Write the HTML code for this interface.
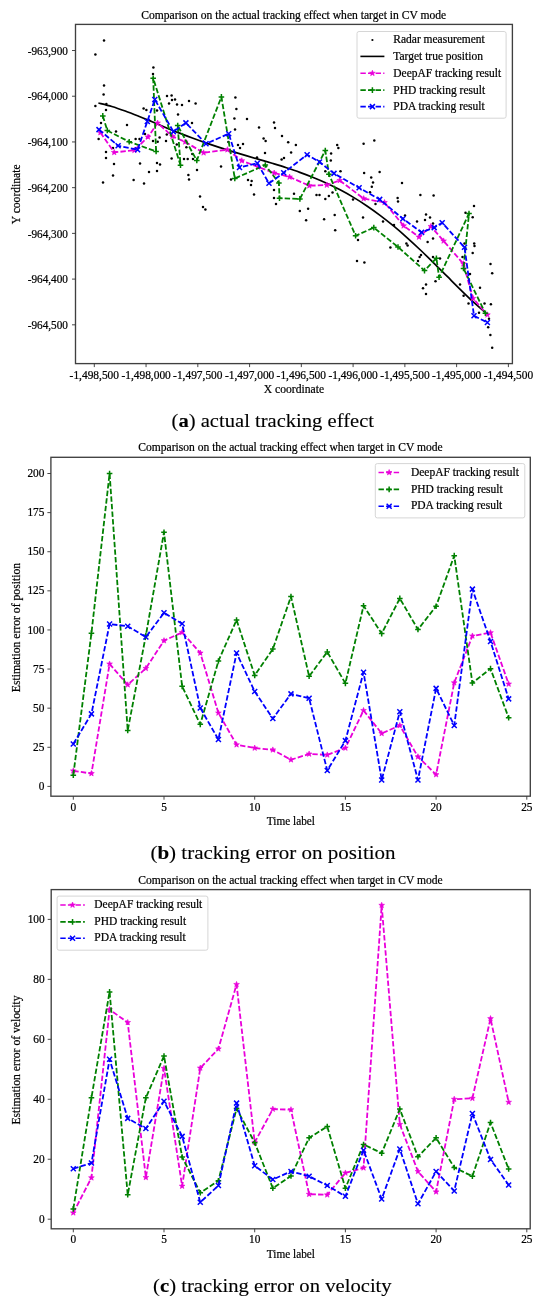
<!DOCTYPE html>
<html><head><meta charset="utf-8"><title>Tracking comparison</title>
<style>html,body{margin:0;padding:0;background:#fff;} svg{display:block;} text{stroke:#000;stroke-width:0.22px;} text.cap{stroke-width:0.1px;}</style>
</head><body>
<svg width="550" height="1302" viewBox="0 0 550 1302">
<rect width="550" height="1302" fill="#fff"/>
<text transform="translate(293.7,19.1) scale(1,1.0)" font-size="12.0" text-anchor="middle" font-family='"Liberation Serif", "Times New Roman", serif' fill="#000" textLength="305" lengthAdjust="spacingAndGlyphs">Comparison on the actual tracking effect when target in CV mode</text>
<circle cx="104.0" cy="40.6" r="1.25" fill="#000"/>
<circle cx="95.4" cy="54.6" r="1.25" fill="#000"/>
<circle cx="153.4" cy="67.6" r="1.25" fill="#000"/>
<circle cx="153.0" cy="74.0" r="1.25" fill="#000"/>
<circle cx="104.0" cy="85.6" r="1.25" fill="#000"/>
<circle cx="103.6" cy="94.6" r="1.25" fill="#000"/>
<circle cx="95.4" cy="106.0" r="1.25" fill="#000"/>
<circle cx="106.4" cy="104.0" r="1.25" fill="#000"/>
<circle cx="106.0" cy="110.0" r="1.25" fill="#000"/>
<circle cx="167.0" cy="96.0" r="1.25" fill="#000"/>
<circle cx="171.6" cy="95.6" r="1.25" fill="#000"/>
<circle cx="172.0" cy="100.0" r="1.25" fill="#000"/>
<circle cx="175.0" cy="99.6" r="1.25" fill="#000"/>
<circle cx="169.0" cy="103.6" r="1.25" fill="#000"/>
<circle cx="177.0" cy="104.6" r="1.25" fill="#000"/>
<circle cx="182.0" cy="105.0" r="1.25" fill="#000"/>
<circle cx="143.6" cy="108.6" r="1.25" fill="#000"/>
<circle cx="146.4" cy="110.0" r="1.25" fill="#000"/>
<circle cx="157.0" cy="110.4" r="1.25" fill="#000"/>
<circle cx="178.0" cy="114.4" r="1.25" fill="#000"/>
<circle cx="101.0" cy="123.0" r="1.25" fill="#000"/>
<circle cx="127.0" cy="125.0" r="1.25" fill="#000"/>
<circle cx="116.0" cy="131.6" r="1.25" fill="#000"/>
<circle cx="98.6" cy="139.0" r="1.25" fill="#000"/>
<circle cx="135.6" cy="139.0" r="1.25" fill="#000"/>
<circle cx="145.0" cy="134.0" r="1.25" fill="#000"/>
<circle cx="153.0" cy="141.0" r="1.25" fill="#000"/>
<circle cx="159.6" cy="137.6" r="1.25" fill="#000"/>
<circle cx="166.0" cy="141.0" r="1.25" fill="#000"/>
<circle cx="106.0" cy="152.0" r="1.25" fill="#000"/>
<circle cx="106.0" cy="158.0" r="1.25" fill="#000"/>
<circle cx="113.0" cy="148.0" r="1.25" fill="#000"/>
<circle cx="114.0" cy="164.0" r="1.25" fill="#000"/>
<circle cx="140.0" cy="163.6" r="1.25" fill="#000"/>
<circle cx="157.0" cy="163.0" r="1.25" fill="#000"/>
<circle cx="160.0" cy="164.4" r="1.25" fill="#000"/>
<circle cx="113.0" cy="175.6" r="1.25" fill="#000"/>
<circle cx="149.0" cy="172.0" r="1.25" fill="#000"/>
<circle cx="157.0" cy="171.0" r="1.25" fill="#000"/>
<circle cx="103.0" cy="182.4" r="1.25" fill="#000"/>
<circle cx="133.6" cy="180.0" r="1.25" fill="#000"/>
<circle cx="144.0" cy="183.6" r="1.25" fill="#000"/>
<circle cx="171.6" cy="158.4" r="1.25" fill="#000"/>
<circle cx="184.0" cy="159.0" r="1.25" fill="#000"/>
<circle cx="187.7" cy="159.0" r="1.25" fill="#000"/>
<circle cx="193.0" cy="159.0" r="1.25" fill="#000"/>
<circle cx="139.5" cy="139.0" r="1.25" fill="#000"/>
<circle cx="157.7" cy="141.8" r="1.25" fill="#000"/>
<circle cx="189.0" cy="101.0" r="1.25" fill="#000"/>
<circle cx="195.6" cy="103.6" r="1.25" fill="#000"/>
<circle cx="235.4" cy="97.6" r="1.25" fill="#000"/>
<circle cx="236.4" cy="109.0" r="1.25" fill="#000"/>
<circle cx="234.4" cy="118.4" r="1.25" fill="#000"/>
<circle cx="247.0" cy="119.0" r="1.25" fill="#000"/>
<circle cx="274.0" cy="122.4" r="1.25" fill="#000"/>
<circle cx="192.0" cy="123.0" r="1.25" fill="#000"/>
<circle cx="259.0" cy="127.6" r="1.25" fill="#000"/>
<circle cx="275.0" cy="128.0" r="1.25" fill="#000"/>
<circle cx="235.0" cy="129.6" r="1.25" fill="#000"/>
<circle cx="282.0" cy="136.0" r="1.25" fill="#000"/>
<circle cx="263.6" cy="138.4" r="1.25" fill="#000"/>
<circle cx="265.6" cy="141.0" r="1.25" fill="#000"/>
<circle cx="228.4" cy="142.0" r="1.25" fill="#000"/>
<circle cx="238.0" cy="145.0" r="1.25" fill="#000"/>
<circle cx="243.0" cy="144.0" r="1.25" fill="#000"/>
<circle cx="240.0" cy="148.0" r="1.25" fill="#000"/>
<circle cx="265.0" cy="153.0" r="1.25" fill="#000"/>
<circle cx="284.0" cy="158.0" r="1.25" fill="#000"/>
<circle cx="257.0" cy="157.6" r="1.25" fill="#000"/>
<circle cx="221.0" cy="166.4" r="1.25" fill="#000"/>
<circle cx="197.0" cy="170.0" r="1.25" fill="#000"/>
<circle cx="188.4" cy="175.0" r="1.25" fill="#000"/>
<circle cx="189.0" cy="179.6" r="1.25" fill="#000"/>
<circle cx="231.0" cy="179.6" r="1.25" fill="#000"/>
<circle cx="248.0" cy="180.0" r="1.25" fill="#000"/>
<circle cx="251.6" cy="181.0" r="1.25" fill="#000"/>
<circle cx="251.0" cy="185.0" r="1.25" fill="#000"/>
<circle cx="274.0" cy="190.0" r="1.25" fill="#000"/>
<circle cx="200.0" cy="196.4" r="1.25" fill="#000"/>
<circle cx="254.0" cy="194.4" r="1.25" fill="#000"/>
<circle cx="274.0" cy="198.0" r="1.25" fill="#000"/>
<circle cx="276.0" cy="204.0" r="1.25" fill="#000"/>
<circle cx="203.0" cy="207.0" r="1.25" fill="#000"/>
<circle cx="205.4" cy="209.4" r="1.25" fill="#000"/>
<circle cx="288.2" cy="142.2" r="1.25" fill="#000"/>
<circle cx="295.9" cy="145.1" r="1.25" fill="#000"/>
<circle cx="337.2" cy="145.1" r="1.25" fill="#000"/>
<circle cx="338.4" cy="148.0" r="1.25" fill="#000"/>
<circle cx="291.1" cy="152.4" r="1.25" fill="#000"/>
<circle cx="331.1" cy="153.4" r="1.25" fill="#000"/>
<circle cx="281.6" cy="159.6" r="1.25" fill="#000"/>
<circle cx="330.8" cy="160.4" r="1.25" fill="#000"/>
<circle cx="325.3" cy="171.3" r="1.25" fill="#000"/>
<circle cx="340.5" cy="171.3" r="1.25" fill="#000"/>
<circle cx="294.0" cy="193.8" r="1.25" fill="#000"/>
<circle cx="316.5" cy="195.0" r="1.25" fill="#000"/>
<circle cx="319.5" cy="195.0" r="1.25" fill="#000"/>
<circle cx="325.3" cy="198.9" r="1.25" fill="#000"/>
<circle cx="328.9" cy="196.0" r="1.25" fill="#000"/>
<circle cx="332.5" cy="192.4" r="1.25" fill="#000"/>
<circle cx="299.8" cy="211.0" r="1.25" fill="#000"/>
<circle cx="308.1" cy="208.7" r="1.25" fill="#000"/>
<circle cx="306.1" cy="220.3" r="1.25" fill="#000"/>
<circle cx="324.1" cy="219.3" r="1.25" fill="#000"/>
<circle cx="334.7" cy="214.9" r="1.25" fill="#000"/>
<circle cx="335.2" cy="230.2" r="1.25" fill="#000"/>
<circle cx="379.6" cy="172.0" r="1.25" fill="#000"/>
<circle cx="402.0" cy="183.0" r="1.25" fill="#000"/>
<circle cx="397.6" cy="198.0" r="1.25" fill="#000"/>
<circle cx="398.0" cy="201.6" r="1.25" fill="#000"/>
<circle cx="420.4" cy="195.0" r="1.25" fill="#000"/>
<circle cx="433.6" cy="195.6" r="1.25" fill="#000"/>
<circle cx="474.0" cy="206.0" r="1.25" fill="#000"/>
<circle cx="373.0" cy="182.4" r="1.25" fill="#000"/>
<circle cx="353.0" cy="199.6" r="1.25" fill="#000"/>
<circle cx="363.0" cy="217.6" r="1.25" fill="#000"/>
<circle cx="383.0" cy="221.6" r="1.25" fill="#000"/>
<circle cx="394.0" cy="225.0" r="1.25" fill="#000"/>
<circle cx="417.0" cy="221.6" r="1.25" fill="#000"/>
<circle cx="426.0" cy="214.4" r="1.25" fill="#000"/>
<circle cx="430.0" cy="217.6" r="1.25" fill="#000"/>
<circle cx="425.0" cy="220.0" r="1.25" fill="#000"/>
<circle cx="433.0" cy="223.6" r="1.25" fill="#000"/>
<circle cx="358.0" cy="240.0" r="1.25" fill="#000"/>
<circle cx="433.0" cy="238.4" r="1.25" fill="#000"/>
<circle cx="427.6" cy="242.0" r="1.25" fill="#000"/>
<circle cx="390.4" cy="247.6" r="1.25" fill="#000"/>
<circle cx="406.4" cy="243.6" r="1.25" fill="#000"/>
<circle cx="407.6" cy="245.6" r="1.25" fill="#000"/>
<circle cx="421.0" cy="255.0" r="1.25" fill="#000"/>
<circle cx="419.6" cy="257.0" r="1.25" fill="#000"/>
<circle cx="433.0" cy="257.0" r="1.25" fill="#000"/>
<circle cx="357.0" cy="261.0" r="1.25" fill="#000"/>
<circle cx="364.4" cy="262.4" r="1.25" fill="#000"/>
<circle cx="418.0" cy="261.0" r="1.25" fill="#000"/>
<circle cx="465.5" cy="212.7" r="1.25" fill="#000"/>
<circle cx="472.7" cy="217.3" r="1.25" fill="#000"/>
<circle cx="474.2" cy="243.6" r="1.25" fill="#000"/>
<circle cx="464.5" cy="243.6" r="1.25" fill="#000"/>
<circle cx="472.7" cy="253.0" r="1.25" fill="#000"/>
<circle cx="490.5" cy="264.0" r="1.25" fill="#000"/>
<circle cx="440.0" cy="258.5" r="1.25" fill="#000"/>
<circle cx="492.2" cy="273.3" r="1.25" fill="#000"/>
<circle cx="470.0" cy="274.0" r="1.25" fill="#000"/>
<circle cx="435.5" cy="281.3" r="1.25" fill="#000"/>
<circle cx="460.0" cy="284.5" r="1.25" fill="#000"/>
<circle cx="426.0" cy="284.5" r="1.25" fill="#000"/>
<circle cx="423.0" cy="288.2" r="1.25" fill="#000"/>
<circle cx="426.0" cy="294.0" r="1.25" fill="#000"/>
<circle cx="480.0" cy="287.8" r="1.25" fill="#000"/>
<circle cx="463.6" cy="295.8" r="1.25" fill="#000"/>
<circle cx="468.5" cy="303.6" r="1.25" fill="#000"/>
<circle cx="484.5" cy="303.6" r="1.25" fill="#000"/>
<circle cx="490.9" cy="304.2" r="1.25" fill="#000"/>
<circle cx="479.0" cy="312.7" r="1.25" fill="#000"/>
<circle cx="488.2" cy="327.3" r="1.25" fill="#000"/>
<circle cx="490.4" cy="335.0" r="1.25" fill="#000"/>
<circle cx="492.2" cy="347.8" r="1.25" fill="#000"/>
<circle cx="364.1" cy="173.0" r="1.25" fill="#000"/>
<circle cx="371.2" cy="177.5" r="1.25" fill="#000"/>
<circle cx="371.8" cy="186.8" r="1.25" fill="#000"/>
<circle cx="370.0" cy="192.3" r="1.25" fill="#000"/>
<circle cx="375.5" cy="204.1" r="1.25" fill="#000"/>
<circle cx="462.5" cy="256.9" r="1.25" fill="#000"/>
<circle cx="489.0" cy="318.8" r="1.25" fill="#000"/>
<circle cx="474.5" cy="246.0" r="1.25" fill="#000"/>
<circle cx="405.0" cy="215.6" r="1.25" fill="#000"/>
<circle cx="363.6" cy="143.7" r="1.25" fill="#000"/>
<circle cx="374.3" cy="140.5" r="1.25" fill="#000"/>
<circle cx="166.8" cy="134.5" r="1.25" fill="#000"/>
<circle cx="176.8" cy="144.5" r="1.25" fill="#000"/>
<circle cx="186.4" cy="147.3" r="1.25" fill="#000"/>
<circle cx="192.3" cy="154.0" r="1.25" fill="#000"/>
<path d="M98.40 103.00 C100.64 103.57 107.35 105.11 111.83 106.44 C116.30 107.78 120.78 109.38 125.26 111.02 C129.73 112.65 134.21 114.46 138.68 116.26 C143.16 118.06 147.63 119.96 152.11 121.81 C156.59 123.67 161.06 125.57 165.54 127.41 C170.01 129.25 174.49 131.09 178.97 132.86 C183.44 134.62 187.92 136.36 192.39 138.03 C196.87 139.70 201.34 141.31 205.82 142.87 C210.30 144.43 214.77 145.92 219.25 147.38 C223.72 148.83 228.20 150.23 232.68 151.60 C237.15 152.98 241.63 154.30 246.10 155.62 C250.58 156.95 255.06 158.24 259.53 159.56 C264.01 160.88 268.48 162.19 272.96 163.55 C277.43 164.92 281.91 166.29 286.39 167.75 C290.86 169.22 295.34 170.71 299.81 172.33 C304.29 173.94 308.77 175.62 313.24 177.44 C317.72 179.25 322.19 181.16 326.67 183.23 C331.14 185.30 335.62 187.48 340.10 189.85 C344.57 192.21 349.05 194.71 353.52 197.39 C358.00 200.08 362.48 202.93 366.95 205.95 C371.43 208.98 375.90 212.18 380.38 215.56 C384.86 218.93 389.33 222.49 393.81 226.20 C398.28 229.91 402.76 233.80 407.23 237.81 C411.71 241.82 416.19 246.00 420.66 250.25 C425.14 254.50 429.61 258.91 434.09 263.32 C438.57 267.73 443.04 272.26 447.52 276.72 C451.99 281.18 456.47 285.71 460.94 290.08 C465.42 294.45 469.90 298.83 474.37 302.92 C478.85 307.02 485.56 312.72 487.80 314.67" fill="none" stroke="#000" stroke-width="1.7"/>
<polyline points="100.40,132.60 114.20,152.40 134.40,150.30 148.00,136.90 157.60,123.00 172.40,136.30 185.20,141.90 203.60,152.80 227.40,149.70 241.80,160.70 258.00,166.90 274.20,173.00 289.60,177.00 309.30,185.70 326.80,185.10 339.70,180.40 363.70,198.60 384.50,202.50 403.60,225.80 419.00,237.00 430.90,226.40 443.60,240.90 463.40,263.80 473.00,298.40 487.40,314.80" fill="none" stroke="#e900da" stroke-width="1.8" stroke-dasharray="5.4 2.2" stroke-linejoin="round"/>
<polygon points="100.40,129.60 101.14,131.58 103.25,131.67 101.60,132.99 102.16,135.03 100.40,133.86 98.64,135.03 99.20,132.99 97.55,131.67 99.66,131.58" fill="#e900da" stroke="#e900da" stroke-width="0.6"/>
<polygon points="114.20,149.40 114.94,151.38 117.05,151.47 115.40,152.79 115.96,154.83 114.20,153.66 112.44,154.83 113.00,152.79 111.35,151.47 113.46,151.38" fill="#e900da" stroke="#e900da" stroke-width="0.6"/>
<polygon points="134.40,147.30 135.14,149.28 137.25,149.37 135.60,150.69 136.16,152.73 134.40,151.56 132.64,152.73 133.20,150.69 131.55,149.37 133.66,149.28" fill="#e900da" stroke="#e900da" stroke-width="0.6"/>
<polygon points="148.00,133.90 148.74,135.88 150.85,135.97 149.20,137.29 149.76,139.33 148.00,138.16 146.24,139.33 146.80,137.29 145.15,135.97 147.26,135.88" fill="#e900da" stroke="#e900da" stroke-width="0.6"/>
<polygon points="157.60,120.00 158.34,121.98 160.45,122.07 158.80,123.39 159.36,125.43 157.60,124.26 155.84,125.43 156.40,123.39 154.75,122.07 156.86,121.98" fill="#e900da" stroke="#e900da" stroke-width="0.6"/>
<polygon points="172.40,133.30 173.14,135.28 175.25,135.37 173.60,136.69 174.16,138.73 172.40,137.56 170.64,138.73 171.20,136.69 169.55,135.37 171.66,135.28" fill="#e900da" stroke="#e900da" stroke-width="0.6"/>
<polygon points="185.20,138.90 185.94,140.88 188.05,140.97 186.40,142.29 186.96,144.33 185.20,143.16 183.44,144.33 184.00,142.29 182.35,140.97 184.46,140.88" fill="#e900da" stroke="#e900da" stroke-width="0.6"/>
<polygon points="203.60,149.80 204.34,151.78 206.45,151.87 204.80,153.19 205.36,155.23 203.60,154.06 201.84,155.23 202.40,153.19 200.75,151.87 202.86,151.78" fill="#e900da" stroke="#e900da" stroke-width="0.6"/>
<polygon points="227.40,146.70 228.14,148.68 230.25,148.77 228.60,150.09 229.16,152.13 227.40,150.96 225.64,152.13 226.20,150.09 224.55,148.77 226.66,148.68" fill="#e900da" stroke="#e900da" stroke-width="0.6"/>
<polygon points="241.80,157.70 242.54,159.68 244.65,159.77 243.00,161.09 243.56,163.13 241.80,161.96 240.04,163.13 240.60,161.09 238.95,159.77 241.06,159.68" fill="#e900da" stroke="#e900da" stroke-width="0.6"/>
<polygon points="258.00,163.90 258.74,165.88 260.85,165.97 259.20,167.29 259.76,169.33 258.00,168.16 256.24,169.33 256.80,167.29 255.15,165.97 257.26,165.88" fill="#e900da" stroke="#e900da" stroke-width="0.6"/>
<polygon points="274.20,170.00 274.94,171.98 277.05,172.07 275.40,173.39 275.96,175.43 274.20,174.26 272.44,175.43 273.00,173.39 271.35,172.07 273.46,171.98" fill="#e900da" stroke="#e900da" stroke-width="0.6"/>
<polygon points="289.60,174.00 290.34,175.98 292.45,176.07 290.80,177.39 291.36,179.43 289.60,178.26 287.84,179.43 288.40,177.39 286.75,176.07 288.86,175.98" fill="#e900da" stroke="#e900da" stroke-width="0.6"/>
<polygon points="309.30,182.70 310.04,184.68 312.15,184.77 310.50,186.09 311.06,188.13 309.30,186.96 307.54,188.13 308.10,186.09 306.45,184.77 308.56,184.68" fill="#e900da" stroke="#e900da" stroke-width="0.6"/>
<polygon points="326.80,182.10 327.54,184.08 329.65,184.17 328.00,185.49 328.56,187.53 326.80,186.36 325.04,187.53 325.60,185.49 323.95,184.17 326.06,184.08" fill="#e900da" stroke="#e900da" stroke-width="0.6"/>
<polygon points="339.70,177.40 340.44,179.38 342.55,179.47 340.90,180.79 341.46,182.83 339.70,181.66 337.94,182.83 338.50,180.79 336.85,179.47 338.96,179.38" fill="#e900da" stroke="#e900da" stroke-width="0.6"/>
<polygon points="363.70,195.60 364.44,197.58 366.55,197.67 364.90,198.99 365.46,201.03 363.70,199.86 361.94,201.03 362.50,198.99 360.85,197.67 362.96,197.58" fill="#e900da" stroke="#e900da" stroke-width="0.6"/>
<polygon points="384.50,199.50 385.24,201.48 387.35,201.57 385.70,202.89 386.26,204.93 384.50,203.76 382.74,204.93 383.30,202.89 381.65,201.57 383.76,201.48" fill="#e900da" stroke="#e900da" stroke-width="0.6"/>
<polygon points="403.60,222.80 404.34,224.78 406.45,224.87 404.80,226.19 405.36,228.23 403.60,227.06 401.84,228.23 402.40,226.19 400.75,224.87 402.86,224.78" fill="#e900da" stroke="#e900da" stroke-width="0.6"/>
<polygon points="419.00,234.00 419.74,235.98 421.85,236.07 420.20,237.39 420.76,239.43 419.00,238.26 417.24,239.43 417.80,237.39 416.15,236.07 418.26,235.98" fill="#e900da" stroke="#e900da" stroke-width="0.6"/>
<polygon points="430.90,223.40 431.64,225.38 433.75,225.47 432.10,226.79 432.66,228.83 430.90,227.66 429.14,228.83 429.70,226.79 428.05,225.47 430.16,225.38" fill="#e900da" stroke="#e900da" stroke-width="0.6"/>
<polygon points="443.60,237.90 444.34,239.88 446.45,239.97 444.80,241.29 445.36,243.33 443.60,242.16 441.84,243.33 442.40,241.29 440.75,239.97 442.86,239.88" fill="#e900da" stroke="#e900da" stroke-width="0.6"/>
<polygon points="463.40,260.80 464.14,262.78 466.25,262.87 464.60,264.19 465.16,266.23 463.40,265.06 461.64,266.23 462.20,264.19 460.55,262.87 462.66,262.78" fill="#e900da" stroke="#e900da" stroke-width="0.6"/>
<polygon points="473.00,295.40 473.74,297.38 475.85,297.47 474.20,298.79 474.76,300.83 473.00,299.66 471.24,300.83 471.80,298.79 470.15,297.47 472.26,297.38" fill="#e900da" stroke="#e900da" stroke-width="0.6"/>
<polygon points="487.40,311.80 488.14,313.78 490.25,313.87 488.60,315.19 489.16,317.23 487.40,316.06 485.64,317.23 486.20,315.19 484.55,313.87 486.66,313.78" fill="#e900da" stroke="#e900da" stroke-width="0.6"/>
<polyline points="102.80,115.90 107.30,130.50 129.20,141.80 156.10,151.40 153.20,78.20 180.50,165.20 177.70,125.60 196.80,160.50 221.40,96.90 234.80,178.50 265.30,165.00 278.90,183.00 279.50,198.20 299.90,198.90 325.30,150.60 328.90,174.20 355.60,235.80 373.80,227.60 398.00,247.00 424.50,270.60 436.40,258.20 439.10,277.30 469.00,213.50 463.50,268.40 485.40,313.30" fill="none" stroke="#008000" stroke-width="1.8" stroke-dasharray="5.4 2.2" stroke-linejoin="round"/>
<path d="M100.00 115.90H105.60M102.80 113.10V118.70" stroke="#008000" stroke-width="1.5" fill="none"/>
<path d="M104.50 130.50H110.10M107.30 127.70V133.30" stroke="#008000" stroke-width="1.5" fill="none"/>
<path d="M126.40 141.80H132.00M129.20 139.00V144.60" stroke="#008000" stroke-width="1.5" fill="none"/>
<path d="M153.30 151.40H158.90M156.10 148.60V154.20" stroke="#008000" stroke-width="1.5" fill="none"/>
<path d="M150.40 78.20H156.00M153.20 75.40V81.00" stroke="#008000" stroke-width="1.5" fill="none"/>
<path d="M177.70 165.20H183.30M180.50 162.40V168.00" stroke="#008000" stroke-width="1.5" fill="none"/>
<path d="M174.90 125.60H180.50M177.70 122.80V128.40" stroke="#008000" stroke-width="1.5" fill="none"/>
<path d="M194.00 160.50H199.60M196.80 157.70V163.30" stroke="#008000" stroke-width="1.5" fill="none"/>
<path d="M218.60 96.90H224.20M221.40 94.10V99.70" stroke="#008000" stroke-width="1.5" fill="none"/>
<path d="M232.00 178.50H237.60M234.80 175.70V181.30" stroke="#008000" stroke-width="1.5" fill="none"/>
<path d="M262.50 165.00H268.10M265.30 162.20V167.80" stroke="#008000" stroke-width="1.5" fill="none"/>
<path d="M276.10 183.00H281.70M278.90 180.20V185.80" stroke="#008000" stroke-width="1.5" fill="none"/>
<path d="M276.70 198.20H282.30M279.50 195.40V201.00" stroke="#008000" stroke-width="1.5" fill="none"/>
<path d="M297.10 198.90H302.70M299.90 196.10V201.70" stroke="#008000" stroke-width="1.5" fill="none"/>
<path d="M322.50 150.60H328.10M325.30 147.80V153.40" stroke="#008000" stroke-width="1.5" fill="none"/>
<path d="M326.10 174.20H331.70M328.90 171.40V177.00" stroke="#008000" stroke-width="1.5" fill="none"/>
<path d="M352.80 235.80H358.40M355.60 233.00V238.60" stroke="#008000" stroke-width="1.5" fill="none"/>
<path d="M371.00 227.60H376.60M373.80 224.80V230.40" stroke="#008000" stroke-width="1.5" fill="none"/>
<path d="M395.20 247.00H400.80M398.00 244.20V249.80" stroke="#008000" stroke-width="1.5" fill="none"/>
<path d="M421.70 270.60H427.30M424.50 267.80V273.40" stroke="#008000" stroke-width="1.5" fill="none"/>
<path d="M433.60 258.20H439.20M436.40 255.40V261.00" stroke="#008000" stroke-width="1.5" fill="none"/>
<path d="M436.30 277.30H441.90M439.10 274.50V280.10" stroke="#008000" stroke-width="1.5" fill="none"/>
<path d="M466.20 213.50H471.80M469.00 210.70V216.30" stroke="#008000" stroke-width="1.5" fill="none"/>
<path d="M460.70 268.40H466.30M463.50 265.60V271.20" stroke="#008000" stroke-width="1.5" fill="none"/>
<path d="M482.60 313.30H488.20M485.40 310.50V316.10" stroke="#008000" stroke-width="1.5" fill="none"/>
<polyline points="99.00,129.60 118.10,145.80 137.60,149.70 147.30,121.50 154.80,99.50 173.40,131.60 185.90,122.90 206.00,143.80 228.70,133.70 239.50,167.50 257.30,163.20 269.00,183.30 283.70,172.80 307.10,154.70 319.50,162.00 334.00,173.40 359.10,187.80 379.70,199.40 402.90,218.80 421.60,232.40 434.20,227.60 442.20,222.80 464.50,247.30 474.00,315.80 487.40,322.50" fill="none" stroke="#0000ff" stroke-width="1.8" stroke-dasharray="5.4 2.2" stroke-linejoin="round"/>
<path d="M96.50 127.10L101.50 132.10M96.50 132.10L101.50 127.10" stroke="#0000ff" stroke-width="1.5" fill="none"/>
<path d="M115.60 143.30L120.60 148.30M115.60 148.30L120.60 143.30" stroke="#0000ff" stroke-width="1.5" fill="none"/>
<path d="M135.10 147.20L140.10 152.20M135.10 152.20L140.10 147.20" stroke="#0000ff" stroke-width="1.5" fill="none"/>
<path d="M144.80 119.00L149.80 124.00M144.80 124.00L149.80 119.00" stroke="#0000ff" stroke-width="1.5" fill="none"/>
<path d="M152.30 97.00L157.30 102.00M152.30 102.00L157.30 97.00" stroke="#0000ff" stroke-width="1.5" fill="none"/>
<path d="M170.90 129.10L175.90 134.10M170.90 134.10L175.90 129.10" stroke="#0000ff" stroke-width="1.5" fill="none"/>
<path d="M183.40 120.40L188.40 125.40M183.40 125.40L188.40 120.40" stroke="#0000ff" stroke-width="1.5" fill="none"/>
<path d="M203.50 141.30L208.50 146.30M203.50 146.30L208.50 141.30" stroke="#0000ff" stroke-width="1.5" fill="none"/>
<path d="M226.20 131.20L231.20 136.20M226.20 136.20L231.20 131.20" stroke="#0000ff" stroke-width="1.5" fill="none"/>
<path d="M237.00 165.00L242.00 170.00M237.00 170.00L242.00 165.00" stroke="#0000ff" stroke-width="1.5" fill="none"/>
<path d="M254.80 160.70L259.80 165.70M254.80 165.70L259.80 160.70" stroke="#0000ff" stroke-width="1.5" fill="none"/>
<path d="M266.50 180.80L271.50 185.80M266.50 185.80L271.50 180.80" stroke="#0000ff" stroke-width="1.5" fill="none"/>
<path d="M281.20 170.30L286.20 175.30M281.20 175.30L286.20 170.30" stroke="#0000ff" stroke-width="1.5" fill="none"/>
<path d="M304.60 152.20L309.60 157.20M304.60 157.20L309.60 152.20" stroke="#0000ff" stroke-width="1.5" fill="none"/>
<path d="M317.00 159.50L322.00 164.50M317.00 164.50L322.00 159.50" stroke="#0000ff" stroke-width="1.5" fill="none"/>
<path d="M331.50 170.90L336.50 175.90M331.50 175.90L336.50 170.90" stroke="#0000ff" stroke-width="1.5" fill="none"/>
<path d="M356.60 185.30L361.60 190.30M356.60 190.30L361.60 185.30" stroke="#0000ff" stroke-width="1.5" fill="none"/>
<path d="M377.20 196.90L382.20 201.90M377.20 201.90L382.20 196.90" stroke="#0000ff" stroke-width="1.5" fill="none"/>
<path d="M400.40 216.30L405.40 221.30M400.40 221.30L405.40 216.30" stroke="#0000ff" stroke-width="1.5" fill="none"/>
<path d="M419.10 229.90L424.10 234.90M419.10 234.90L424.10 229.90" stroke="#0000ff" stroke-width="1.5" fill="none"/>
<path d="M431.70 225.10L436.70 230.10M431.70 230.10L436.70 225.10" stroke="#0000ff" stroke-width="1.5" fill="none"/>
<path d="M439.70 220.30L444.70 225.30M439.70 225.30L444.70 220.30" stroke="#0000ff" stroke-width="1.5" fill="none"/>
<path d="M462.00 244.80L467.00 249.80M462.00 249.80L467.00 244.80" stroke="#0000ff" stroke-width="1.5" fill="none"/>
<path d="M471.50 313.30L476.50 318.30M471.50 318.30L476.50 313.30" stroke="#0000ff" stroke-width="1.5" fill="none"/>
<path d="M484.90 320.00L489.90 325.00M484.90 325.00L489.90 320.00" stroke="#0000ff" stroke-width="1.5" fill="none"/>
<rect x="75.5" y="24.4" width="436.90" height="339.20" fill="none" stroke="#404040" stroke-width="1.35"/>
<line x1="72.0" y1="50.50" x2="75.5" y2="50.50" stroke="#333" stroke-width="0.9"/>
<text transform="translate(67.9,54.6) scale(1,1.0)" font-size="11.5" text-anchor="end" font-family='"Liberation Serif", "Times New Roman", serif' fill="#000" textLength="40.2" lengthAdjust="spacingAndGlyphs">-963,900</text>
<line x1="72.0" y1="96.22" x2="75.5" y2="96.22" stroke="#333" stroke-width="0.9"/>
<text transform="translate(67.9,100.3) scale(1,1.0)" font-size="11.5" text-anchor="end" font-family='"Liberation Serif", "Times New Roman", serif' fill="#000" textLength="40.2" lengthAdjust="spacingAndGlyphs">-964,000</text>
<line x1="72.0" y1="141.94" x2="75.5" y2="141.94" stroke="#333" stroke-width="0.9"/>
<text transform="translate(67.9,146) scale(1,1.0)" font-size="11.5" text-anchor="end" font-family='"Liberation Serif", "Times New Roman", serif' fill="#000" textLength="40.2" lengthAdjust="spacingAndGlyphs">-964,100</text>
<line x1="72.0" y1="187.66" x2="75.5" y2="187.66" stroke="#333" stroke-width="0.9"/>
<text transform="translate(67.9,191.8) scale(1,1.0)" font-size="11.5" text-anchor="end" font-family='"Liberation Serif", "Times New Roman", serif' fill="#000" textLength="40.2" lengthAdjust="spacingAndGlyphs">-964,200</text>
<line x1="72.0" y1="233.38" x2="75.5" y2="233.38" stroke="#333" stroke-width="0.9"/>
<text transform="translate(67.9,237.5) scale(1,1.0)" font-size="11.5" text-anchor="end" font-family='"Liberation Serif", "Times New Roman", serif' fill="#000" textLength="40.2" lengthAdjust="spacingAndGlyphs">-964,300</text>
<line x1="72.0" y1="279.10" x2="75.5" y2="279.10" stroke="#333" stroke-width="0.9"/>
<text transform="translate(67.9,283.2) scale(1,1.0)" font-size="11.5" text-anchor="end" font-family='"Liberation Serif", "Times New Roman", serif' fill="#000" textLength="40.2" lengthAdjust="spacingAndGlyphs">-964,400</text>
<line x1="72.0" y1="324.82" x2="75.5" y2="324.82" stroke="#333" stroke-width="0.9"/>
<text transform="translate(67.9,328.9) scale(1,1.0)" font-size="11.5" text-anchor="end" font-family='"Liberation Serif", "Times New Roman", serif' fill="#000" textLength="40.2" lengthAdjust="spacingAndGlyphs">-964,500</text>
<line x1="94.30" y1="363.6" x2="94.30" y2="367.1" stroke="#333" stroke-width="0.9"/>
<text transform="translate(94.3,378.5) scale(1,1.0)" font-size="11.5" text-anchor="middle" font-family='"Liberation Serif", "Times New Roman", serif' fill="#000" textLength="49.4" lengthAdjust="spacingAndGlyphs">-1,498,500</text>
<line x1="146.06" y1="363.6" x2="146.06" y2="367.1" stroke="#333" stroke-width="0.9"/>
<text transform="translate(146.1,378.5) scale(1,1.0)" font-size="11.5" text-anchor="middle" font-family='"Liberation Serif", "Times New Roman", serif' fill="#000" textLength="49.4" lengthAdjust="spacingAndGlyphs">-1,498,000</text>
<line x1="197.82" y1="363.6" x2="197.82" y2="367.1" stroke="#333" stroke-width="0.9"/>
<text transform="translate(197.8,378.5) scale(1,1.0)" font-size="11.5" text-anchor="middle" font-family='"Liberation Serif", "Times New Roman", serif' fill="#000" textLength="49.4" lengthAdjust="spacingAndGlyphs">-1,497,500</text>
<line x1="249.58" y1="363.6" x2="249.58" y2="367.1" stroke="#333" stroke-width="0.9"/>
<text transform="translate(249.6,378.5) scale(1,1.0)" font-size="11.5" text-anchor="middle" font-family='"Liberation Serif", "Times New Roman", serif' fill="#000" textLength="49.4" lengthAdjust="spacingAndGlyphs">-1,497,000</text>
<line x1="301.34" y1="363.6" x2="301.34" y2="367.1" stroke="#333" stroke-width="0.9"/>
<text transform="translate(301.3,378.5) scale(1,1.0)" font-size="11.5" text-anchor="middle" font-family='"Liberation Serif", "Times New Roman", serif' fill="#000" textLength="49.4" lengthAdjust="spacingAndGlyphs">-1,496,500</text>
<line x1="353.10" y1="363.6" x2="353.10" y2="367.1" stroke="#333" stroke-width="0.9"/>
<text transform="translate(353.1,378.5) scale(1,1.0)" font-size="11.5" text-anchor="middle" font-family='"Liberation Serif", "Times New Roman", serif' fill="#000" textLength="49.4" lengthAdjust="spacingAndGlyphs">-1,496,000</text>
<line x1="404.86" y1="363.6" x2="404.86" y2="367.1" stroke="#333" stroke-width="0.9"/>
<text transform="translate(404.9,378.5) scale(1,1.0)" font-size="11.5" text-anchor="middle" font-family='"Liberation Serif", "Times New Roman", serif' fill="#000" textLength="49.4" lengthAdjust="spacingAndGlyphs">-1,495,500</text>
<line x1="456.62" y1="363.6" x2="456.62" y2="367.1" stroke="#333" stroke-width="0.9"/>
<text transform="translate(456.6,378.5) scale(1,1.0)" font-size="11.5" text-anchor="middle" font-family='"Liberation Serif", "Times New Roman", serif' fill="#000" textLength="49.4" lengthAdjust="spacingAndGlyphs">-1,495,000</text>
<line x1="508.38" y1="363.6" x2="508.38" y2="367.1" stroke="#333" stroke-width="0.9"/>
<text transform="translate(508.4,378.5) scale(1,1.0)" font-size="11.5" text-anchor="middle" font-family='"Liberation Serif", "Times New Roman", serif' fill="#000" textLength="49.4" lengthAdjust="spacingAndGlyphs">-1,494,500</text>
<text transform="translate(293.9,392.8) scale(1,1.0)" font-size="12.6" text-anchor="middle" font-family='"Liberation Serif", "Times New Roman", serif' fill="#000" textLength="60.4" lengthAdjust="spacingAndGlyphs">X coordinate</text>
<text transform="translate(19.8,194.3) rotate(-90) scale(1,1.0)" x="0" y="0" font-size="12.6" text-anchor="middle" font-family='"Liberation Serif", "Times New Roman", serif' textLength="59.7" lengthAdjust="spacingAndGlyphs">Y coordinate</text>
<rect x="357.0" y="31.5" width="149.10" height="86.70" rx="2" fill="#fff" fill-opacity="0.8" stroke="#d6d6d6" stroke-width="1"/>
<circle cx="372.40" cy="40.0" r="1.1" fill="#000"/>
<text transform="translate(393.3,43.1) scale(1,1.0)" font-size="11.6" text-anchor="start" font-family='"Liberation Serif", "Times New Roman", serif' fill="#000" textLength="91.5" lengthAdjust="spacingAndGlyphs">Radar measurement</text>
<line x1="360.4" y1="56.4" x2="384.4" y2="56.4" stroke="#000" stroke-width="1.6"/>
<text transform="translate(393.3,60.1) scale(1,1.0)" font-size="11.6" text-anchor="start" font-family='"Liberation Serif", "Times New Roman", serif' fill="#000" textLength="89.6" lengthAdjust="spacingAndGlyphs">Target true position</text>
<line x1="360.4" y1="73.2" x2="384.4" y2="73.2" stroke="#e900da" stroke-width="1.6" stroke-dasharray="5.4 2.2"/>
<polygon points="372.40,70.20 373.14,72.18 375.25,72.27 373.60,73.59 374.16,75.63 372.40,74.46 370.64,75.63 371.20,73.59 369.55,72.27 371.66,72.18" fill="#e900da" stroke="#e900da" stroke-width="0.6"/>
<text transform="translate(393.3,76.6) scale(1,1.0)" font-size="11.6" text-anchor="start" font-family='"Liberation Serif", "Times New Roman", serif' fill="#000" textLength="107.9" lengthAdjust="spacingAndGlyphs">DeepAF tracking result</text>
<line x1="360.4" y1="90.1" x2="384.4" y2="90.1" stroke="#008000" stroke-width="1.6" stroke-dasharray="5.4 2.2"/>
<path d="M369.60 90.10H375.20M372.40 87.30V92.90" stroke="#008000" stroke-width="1.5" fill="none"/>
<text transform="translate(393.3,93.6) scale(1,1.0)" font-size="11.6" text-anchor="start" font-family='"Liberation Serif", "Times New Roman", serif' fill="#000" textLength="91.8" lengthAdjust="spacingAndGlyphs">PHD tracking result</text>
<line x1="360.4" y1="106.6" x2="384.4" y2="106.6" stroke="#0000ff" stroke-width="1.6" stroke-dasharray="5.4 2.2"/>
<path d="M369.90 104.10L374.90 109.10M369.90 109.10L374.90 104.10" stroke="#0000ff" stroke-width="1.5" fill="none"/>
<text transform="translate(393.3,110.2) scale(1,1.0)" font-size="11.6" text-anchor="start" font-family='"Liberation Serif", "Times New Roman", serif' fill="#000" textLength="91.4" lengthAdjust="spacingAndGlyphs">PDA tracking result</text>
<text transform="translate(171.6,426.8) scale(1,1.07)" class="cap" font-size="17.5" font-family='"Liberation Serif", serif' textLength="202.4" lengthAdjust="spacingAndGlyphs">(<tspan font-weight="bold">a</tspan>) actual tracking effect</text>
<text transform="translate(290.5,451.2) scale(1,1.0)" font-size="12.0" text-anchor="middle" font-family='"Liberation Serif", "Times New Roman", serif' fill="#000" textLength="304.5" lengthAdjust="spacingAndGlyphs">Comparison on the actual tracking effect when target in CV mode</text>
<polyline points="73.30,770.85 91.44,773.51 109.58,663.96 127.72,684.77 145.86,668.34 164.00,640.64 182.14,632.35 200.28,653.01 218.42,712.95 236.56,744.71 254.70,748.00 272.84,749.88 290.98,759.74 309.12,753.95 327.26,754.89 345.40,748.00 363.54,710.44 381.68,733.45 399.82,725.47 417.96,756.76 436.10,774.61 454.24,682.74 472.38,635.95 490.52,632.66 508.66,683.99" fill="none" stroke="#e900da" stroke-width="1.8" stroke-dasharray="5.4 2.2" stroke-linejoin="round"/>
<polygon points="73.30,767.85 74.04,769.83 76.15,769.92 74.50,771.24 75.06,773.28 73.30,772.11 71.54,773.28 72.10,771.24 70.45,769.92 72.56,769.83" fill="#e900da" stroke="#e900da" stroke-width="0.6"/>
<polygon points="91.44,770.51 92.18,772.49 94.29,772.58 92.64,773.90 93.20,775.94 91.44,774.77 89.68,775.94 90.24,773.90 88.59,772.58 90.70,772.49" fill="#e900da" stroke="#e900da" stroke-width="0.6"/>
<polygon points="109.58,660.96 110.32,662.94 112.43,663.03 110.78,664.35 111.34,666.39 109.58,665.22 107.82,666.39 108.38,664.35 106.73,663.03 108.84,662.94" fill="#e900da" stroke="#e900da" stroke-width="0.6"/>
<polygon points="127.72,681.77 128.46,683.76 130.57,683.85 128.92,685.16 129.48,687.20 127.72,686.03 125.96,687.20 126.52,685.16 124.87,683.85 126.98,683.76" fill="#e900da" stroke="#e900da" stroke-width="0.6"/>
<polygon points="145.86,665.34 146.60,667.32 148.71,667.42 147.06,668.73 147.62,670.77 145.86,669.60 144.10,670.77 144.66,668.73 143.01,667.42 145.12,667.32" fill="#e900da" stroke="#e900da" stroke-width="0.6"/>
<polygon points="164.00,637.64 164.74,639.62 166.85,639.71 165.20,641.03 165.76,643.07 164.00,641.90 162.24,643.07 162.80,641.03 161.15,639.71 163.26,639.62" fill="#e900da" stroke="#e900da" stroke-width="0.6"/>
<polygon points="182.14,629.35 182.88,631.33 184.99,631.42 183.34,632.74 183.90,634.77 182.14,633.61 180.38,634.77 180.94,632.74 179.29,631.42 181.40,631.33" fill="#e900da" stroke="#e900da" stroke-width="0.6"/>
<polygon points="200.28,650.01 201.02,651.99 203.13,652.08 201.48,653.39 202.04,655.43 200.28,654.27 198.52,655.43 199.08,653.39 197.43,652.08 199.54,651.99" fill="#e900da" stroke="#e900da" stroke-width="0.6"/>
<polygon points="218.42,709.95 219.16,711.93 221.27,712.02 219.62,713.33 220.18,715.37 218.42,714.21 216.66,715.37 217.22,713.33 215.57,712.02 217.68,711.93" fill="#e900da" stroke="#e900da" stroke-width="0.6"/>
<polygon points="236.56,741.71 237.30,743.70 239.41,743.79 237.76,745.10 238.32,747.14 236.56,745.97 234.80,747.14 235.36,745.10 233.71,743.79 235.82,743.70" fill="#e900da" stroke="#e900da" stroke-width="0.6"/>
<polygon points="254.70,745.00 255.44,746.98 257.55,747.07 255.90,748.39 256.46,750.43 254.70,749.26 252.94,750.43 253.50,748.39 251.85,747.07 253.96,746.98" fill="#e900da" stroke="#e900da" stroke-width="0.6"/>
<polygon points="272.84,746.88 273.58,748.86 275.69,748.95 274.04,750.27 274.60,752.31 272.84,751.14 271.08,752.31 271.64,750.27 269.99,748.95 272.10,748.86" fill="#e900da" stroke="#e900da" stroke-width="0.6"/>
<polygon points="290.98,756.74 291.72,758.72 293.83,758.81 292.18,760.13 292.74,762.17 290.98,761.00 289.22,762.17 289.78,760.13 288.13,758.81 290.24,758.72" fill="#e900da" stroke="#e900da" stroke-width="0.6"/>
<polygon points="309.12,750.95 309.86,752.93 311.97,753.02 310.32,754.34 310.88,756.38 309.12,755.21 307.36,756.38 307.92,754.34 306.27,753.02 308.38,752.93" fill="#e900da" stroke="#e900da" stroke-width="0.6"/>
<polygon points="327.26,751.89 328.00,753.87 330.11,753.96 328.46,755.28 329.02,757.31 327.26,756.15 325.50,757.31 326.06,755.28 324.41,753.96 326.52,753.87" fill="#e900da" stroke="#e900da" stroke-width="0.6"/>
<polygon points="345.40,745.00 346.14,746.98 348.25,747.07 346.60,748.39 347.16,750.43 345.40,749.26 343.64,750.43 344.20,748.39 342.55,747.07 344.66,746.98" fill="#e900da" stroke="#e900da" stroke-width="0.6"/>
<polygon points="363.54,707.44 364.28,709.42 366.39,709.51 364.74,710.83 365.30,712.87 363.54,711.70 361.78,712.87 362.34,710.83 360.69,709.51 362.80,709.42" fill="#e900da" stroke="#e900da" stroke-width="0.6"/>
<polygon points="381.68,730.45 382.42,732.43 384.53,732.52 382.88,733.84 383.44,735.87 381.68,734.71 379.92,735.87 380.48,733.84 378.83,732.52 380.94,732.43" fill="#e900da" stroke="#e900da" stroke-width="0.6"/>
<polygon points="399.82,722.47 400.56,724.45 402.67,724.54 401.02,725.85 401.58,727.89 399.82,726.73 398.06,727.89 398.62,725.85 396.97,724.54 399.08,724.45" fill="#e900da" stroke="#e900da" stroke-width="0.6"/>
<polygon points="417.96,753.76 418.70,755.75 420.81,755.84 419.16,757.15 419.72,759.19 417.96,758.02 416.20,759.19 416.76,757.15 415.11,755.84 417.22,755.75" fill="#e900da" stroke="#e900da" stroke-width="0.6"/>
<polygon points="436.10,771.61 436.84,773.59 438.95,773.68 437.30,775.00 437.86,777.03 436.10,775.87 434.34,777.03 434.90,775.00 433.25,773.68 435.36,773.59" fill="#e900da" stroke="#e900da" stroke-width="0.6"/>
<polygon points="454.24,679.74 454.98,681.72 457.09,681.81 455.44,683.13 456.00,685.17 454.24,684.00 452.48,685.17 453.04,683.13 451.39,681.81 453.50,681.72" fill="#e900da" stroke="#e900da" stroke-width="0.6"/>
<polygon points="472.38,632.95 473.12,634.93 475.23,635.02 473.58,636.34 474.14,638.37 472.38,637.21 470.62,638.37 471.18,636.34 469.53,635.02 471.64,634.93" fill="#e900da" stroke="#e900da" stroke-width="0.6"/>
<polygon points="490.52,629.66 491.26,631.64 493.37,631.73 491.72,633.05 492.28,635.09 490.52,633.92 488.76,635.09 489.32,633.05 487.67,631.73 489.78,631.64" fill="#e900da" stroke="#e900da" stroke-width="0.6"/>
<polygon points="508.66,680.99 509.40,682.97 511.51,683.07 509.86,684.38 510.42,686.42 508.66,685.25 506.90,686.42 507.46,684.38 505.81,683.07 507.92,682.97" fill="#e900da" stroke="#e900da" stroke-width="0.6"/>
<polyline points="73.30,775.23 91.44,633.13 109.58,473.50 127.72,730.47 145.86,635.48 164.00,532.19 182.14,686.34 200.28,724.37 218.42,660.99 236.56,619.98 254.70,675.38 272.84,649.09 290.98,596.51 309.12,676.32 327.26,651.91 345.40,683.37 363.54,605.74 381.68,633.60 399.82,598.39 417.96,629.53 436.10,606.21 454.24,555.66 472.38,682.90 490.52,668.66 508.66,717.80" fill="none" stroke="#008000" stroke-width="1.8" stroke-dasharray="5.4 2.2" stroke-linejoin="round"/>
<path d="M70.50 775.23H76.10M73.30 772.43V778.03" stroke="#008000" stroke-width="1.5" fill="none"/>
<path d="M88.64 633.13H94.24M91.44 630.33V635.93" stroke="#008000" stroke-width="1.5" fill="none"/>
<path d="M106.78 473.50H112.38M109.58 470.70V476.30" stroke="#008000" stroke-width="1.5" fill="none"/>
<path d="M124.92 730.47H130.52M127.72 727.67V733.27" stroke="#008000" stroke-width="1.5" fill="none"/>
<path d="M143.06 635.48H148.66M145.86 632.68V638.28" stroke="#008000" stroke-width="1.5" fill="none"/>
<path d="M161.20 532.19H166.80M164.00 529.39V534.99" stroke="#008000" stroke-width="1.5" fill="none"/>
<path d="M179.34 686.34H184.94M182.14 683.54V689.14" stroke="#008000" stroke-width="1.5" fill="none"/>
<path d="M197.48 724.37H203.08M200.28 721.57V727.17" stroke="#008000" stroke-width="1.5" fill="none"/>
<path d="M215.62 660.99H221.22M218.42 658.19V663.79" stroke="#008000" stroke-width="1.5" fill="none"/>
<path d="M233.76 619.98H239.36M236.56 617.18V622.78" stroke="#008000" stroke-width="1.5" fill="none"/>
<path d="M251.90 675.38H257.50M254.70 672.59V678.18" stroke="#008000" stroke-width="1.5" fill="none"/>
<path d="M270.04 649.09H275.64M272.84 646.29V651.89" stroke="#008000" stroke-width="1.5" fill="none"/>
<path d="M288.18 596.51H293.78M290.98 593.71V599.31" stroke="#008000" stroke-width="1.5" fill="none"/>
<path d="M306.32 676.32H311.92M309.12 673.52V679.12" stroke="#008000" stroke-width="1.5" fill="none"/>
<path d="M324.46 651.91H330.06M327.26 649.11V654.71" stroke="#008000" stroke-width="1.5" fill="none"/>
<path d="M342.60 683.37H348.20M345.40 680.57V686.17" stroke="#008000" stroke-width="1.5" fill="none"/>
<path d="M360.74 605.74H366.34M363.54 602.94V608.54" stroke="#008000" stroke-width="1.5" fill="none"/>
<path d="M378.88 633.60H384.48M381.68 630.80V636.40" stroke="#008000" stroke-width="1.5" fill="none"/>
<path d="M397.02 598.39H402.62M399.82 595.59V601.19" stroke="#008000" stroke-width="1.5" fill="none"/>
<path d="M415.16 629.53H420.76M417.96 626.73V632.33" stroke="#008000" stroke-width="1.5" fill="none"/>
<path d="M433.30 606.21H438.90M436.10 603.41V609.01" stroke="#008000" stroke-width="1.5" fill="none"/>
<path d="M451.44 555.66H457.04M454.24 552.86V558.46" stroke="#008000" stroke-width="1.5" fill="none"/>
<path d="M469.58 682.90H475.18M472.38 680.10V685.70" stroke="#008000" stroke-width="1.5" fill="none"/>
<path d="M487.72 668.66H493.32M490.52 665.86V671.46" stroke="#008000" stroke-width="1.5" fill="none"/>
<path d="M505.86 717.80H511.46M508.66 715.00V720.60" stroke="#008000" stroke-width="1.5" fill="none"/>
<polyline points="73.30,743.93 91.44,713.88 109.58,624.05 127.72,626.24 145.86,637.04 164.00,612.78 182.14,623.74 200.28,707.94 218.42,739.55 236.56,653.01 254.70,691.50 272.84,718.58 290.98,693.85 309.12,698.23 327.26,770.54 345.40,740.65 363.54,672.25 381.68,779.93 399.82,711.69 417.96,779.93 436.10,688.37 454.24,725.47 472.38,589.15 490.52,641.42 508.66,698.86" fill="none" stroke="#0000ff" stroke-width="1.8" stroke-dasharray="5.4 2.2" stroke-linejoin="round"/>
<path d="M70.80 741.43L75.80 746.43M70.80 746.43L75.80 741.43" stroke="#0000ff" stroke-width="1.5" fill="none"/>
<path d="M88.94 711.38L93.94 716.38M88.94 716.38L93.94 711.38" stroke="#0000ff" stroke-width="1.5" fill="none"/>
<path d="M107.08 621.55L112.08 626.55M107.08 626.55L112.08 621.55" stroke="#0000ff" stroke-width="1.5" fill="none"/>
<path d="M125.22 623.74L130.22 628.74M125.22 628.74L130.22 623.74" stroke="#0000ff" stroke-width="1.5" fill="none"/>
<path d="M143.36 634.54L148.36 639.54M143.36 639.54L148.36 634.54" stroke="#0000ff" stroke-width="1.5" fill="none"/>
<path d="M161.50 610.28L166.50 615.28M161.50 615.28L166.50 610.28" stroke="#0000ff" stroke-width="1.5" fill="none"/>
<path d="M179.64 621.24L184.64 626.24M179.64 626.24L184.64 621.24" stroke="#0000ff" stroke-width="1.5" fill="none"/>
<path d="M197.78 705.44L202.78 710.44M197.78 710.44L202.78 705.44" stroke="#0000ff" stroke-width="1.5" fill="none"/>
<path d="M215.92 737.05L220.92 742.05M215.92 742.05L220.92 737.05" stroke="#0000ff" stroke-width="1.5" fill="none"/>
<path d="M234.06 650.51L239.06 655.51M234.06 655.51L239.06 650.51" stroke="#0000ff" stroke-width="1.5" fill="none"/>
<path d="M252.20 689.00L257.20 694.00M252.20 694.00L257.20 689.00" stroke="#0000ff" stroke-width="1.5" fill="none"/>
<path d="M270.34 716.08L275.34 721.08M270.34 721.08L275.34 716.08" stroke="#0000ff" stroke-width="1.5" fill="none"/>
<path d="M288.48 691.35L293.48 696.35M288.48 696.35L293.48 691.35" stroke="#0000ff" stroke-width="1.5" fill="none"/>
<path d="M306.62 695.73L311.62 700.73M306.62 700.73L311.62 695.73" stroke="#0000ff" stroke-width="1.5" fill="none"/>
<path d="M324.76 768.04L329.76 773.04M324.76 773.04L329.76 768.04" stroke="#0000ff" stroke-width="1.5" fill="none"/>
<path d="M342.90 738.15L347.90 743.15M342.90 743.15L347.90 738.15" stroke="#0000ff" stroke-width="1.5" fill="none"/>
<path d="M361.04 669.75L366.04 674.75M361.04 674.75L366.04 669.75" stroke="#0000ff" stroke-width="1.5" fill="none"/>
<path d="M379.18 777.43L384.18 782.43M379.18 782.43L384.18 777.43" stroke="#0000ff" stroke-width="1.5" fill="none"/>
<path d="M397.32 709.19L402.32 714.19M397.32 714.19L402.32 709.19" stroke="#0000ff" stroke-width="1.5" fill="none"/>
<path d="M415.46 777.43L420.46 782.43M415.46 782.43L420.46 777.43" stroke="#0000ff" stroke-width="1.5" fill="none"/>
<path d="M433.60 685.87L438.60 690.87M433.60 690.87L438.60 685.87" stroke="#0000ff" stroke-width="1.5" fill="none"/>
<path d="M451.74 722.97L456.74 727.97M451.74 727.97L456.74 722.97" stroke="#0000ff" stroke-width="1.5" fill="none"/>
<path d="M469.88 586.65L474.88 591.65M469.88 591.65L474.88 586.65" stroke="#0000ff" stroke-width="1.5" fill="none"/>
<path d="M488.02 638.92L493.02 643.92M488.02 643.92L493.02 638.92" stroke="#0000ff" stroke-width="1.5" fill="none"/>
<path d="M506.16 696.36L511.16 701.36M506.16 701.36L511.16 696.36" stroke="#0000ff" stroke-width="1.5" fill="none"/>
<rect x="50.9" y="457.3" width="479.40" height="338.90" fill="none" stroke="#404040" stroke-width="1.35"/>
<line x1="47.4" y1="786.40" x2="50.9" y2="786.40" stroke="#333" stroke-width="0.9"/>
<text transform="translate(44.4,790) scale(0.93,1.0)" font-size="12.2" text-anchor="end" font-family='"Liberation Serif", "Times New Roman", serif' fill="#000">0</text>
<line x1="47.4" y1="747.29" x2="50.9" y2="747.29" stroke="#333" stroke-width="0.9"/>
<text transform="translate(44.4,750.9) scale(0.93,1.0)" font-size="12.2" text-anchor="end" font-family='"Liberation Serif", "Times New Roman", serif' fill="#000">25</text>
<line x1="47.4" y1="708.17" x2="50.9" y2="708.17" stroke="#333" stroke-width="0.9"/>
<text transform="translate(44.4,711.8) scale(0.93,1.0)" font-size="12.2" text-anchor="end" font-family='"Liberation Serif", "Times New Roman", serif' fill="#000">50</text>
<line x1="47.4" y1="669.06" x2="50.9" y2="669.06" stroke="#333" stroke-width="0.9"/>
<text transform="translate(44.4,672.7) scale(0.93,1.0)" font-size="12.2" text-anchor="end" font-family='"Liberation Serif", "Times New Roman", serif' fill="#000">75</text>
<line x1="47.4" y1="629.95" x2="50.9" y2="629.95" stroke="#333" stroke-width="0.9"/>
<text transform="translate(44.4,633.6) scale(0.93,1.0)" font-size="12.2" text-anchor="end" font-family='"Liberation Serif", "Times New Roman", serif' fill="#000">100</text>
<line x1="47.4" y1="590.84" x2="50.9" y2="590.84" stroke="#333" stroke-width="0.9"/>
<text transform="translate(44.4,594.4) scale(0.93,1.0)" font-size="12.2" text-anchor="end" font-family='"Liberation Serif", "Times New Roman", serif' fill="#000">125</text>
<line x1="47.4" y1="551.72" x2="50.9" y2="551.72" stroke="#333" stroke-width="0.9"/>
<text transform="translate(44.4,555.3) scale(0.93,1.0)" font-size="12.2" text-anchor="end" font-family='"Liberation Serif", "Times New Roman", serif' fill="#000">150</text>
<line x1="47.4" y1="512.61" x2="50.9" y2="512.61" stroke="#333" stroke-width="0.9"/>
<text transform="translate(44.4,516.2) scale(0.93,1.0)" font-size="12.2" text-anchor="end" font-family='"Liberation Serif", "Times New Roman", serif' fill="#000">175</text>
<line x1="47.4" y1="473.50" x2="50.9" y2="473.50" stroke="#333" stroke-width="0.9"/>
<text transform="translate(44.4,477.1) scale(0.93,1.0)" font-size="12.2" text-anchor="end" font-family='"Liberation Serif", "Times New Roman", serif' fill="#000">200</text>
<line x1="73.30" y1="796.2" x2="73.30" y2="799.7" stroke="#333" stroke-width="0.9"/>
<text transform="translate(73.3,810.5) scale(0.93,1.0)" font-size="12.2" text-anchor="middle" font-family='"Liberation Serif", "Times New Roman", serif' fill="#000">0</text>
<line x1="164.00" y1="796.2" x2="164.00" y2="799.7" stroke="#333" stroke-width="0.9"/>
<text transform="translate(164,810.5) scale(0.93,1.0)" font-size="12.2" text-anchor="middle" font-family='"Liberation Serif", "Times New Roman", serif' fill="#000">5</text>
<line x1="254.70" y1="796.2" x2="254.70" y2="799.7" stroke="#333" stroke-width="0.9"/>
<text transform="translate(254.7,810.5) scale(0.93,1.0)" font-size="12.2" text-anchor="middle" font-family='"Liberation Serif", "Times New Roman", serif' fill="#000">10</text>
<line x1="345.40" y1="796.2" x2="345.40" y2="799.7" stroke="#333" stroke-width="0.9"/>
<text transform="translate(345.4,810.5) scale(0.93,1.0)" font-size="12.2" text-anchor="middle" font-family='"Liberation Serif", "Times New Roman", serif' fill="#000">15</text>
<line x1="436.10" y1="796.2" x2="436.10" y2="799.7" stroke="#333" stroke-width="0.9"/>
<text transform="translate(436.1,810.5) scale(0.93,1.0)" font-size="12.2" text-anchor="middle" font-family='"Liberation Serif", "Times New Roman", serif' fill="#000">20</text>
<line x1="526.80" y1="796.2" x2="526.80" y2="799.7" stroke="#333" stroke-width="0.9"/>
<text transform="translate(526.8,810.5) scale(0.93,1.0)" font-size="12.2" text-anchor="middle" font-family='"Liberation Serif", "Times New Roman", serif' fill="#000">25</text>
<text transform="translate(290.9,825.4) scale(1,1.0)" font-size="12.6" text-anchor="middle" font-family='"Liberation Serif", "Times New Roman", serif' fill="#000" textLength="48.2" lengthAdjust="spacingAndGlyphs">Time label</text>
<text transform="translate(20.2,627.55) rotate(-90) scale(1,1.0)" x="0" y="0" font-size="12.6" text-anchor="middle" font-family='"Liberation Serif", "Times New Roman", serif' textLength="129.2" lengthAdjust="spacingAndGlyphs">Estimation error of position</text>
<rect x="375.3" y="463.6" width="149.50" height="54.30" rx="2" fill="#fff" fill-opacity="0.8" stroke="#d6d6d6" stroke-width="1"/>
<line x1="378.5" y1="472.5" x2="399.8" y2="472.5" stroke="#e900da" stroke-width="1.6" stroke-dasharray="5.4 2.2"/>
<polygon points="389.15,469.50 389.89,471.48 392.00,471.57 390.35,472.89 390.91,474.93 389.15,473.76 387.39,474.93 387.95,472.89 386.30,471.57 388.41,471.48" fill="#e900da" stroke="#e900da" stroke-width="0.6"/>
<text transform="translate(410.9,475.6) scale(1,1.0)" font-size="11.6" text-anchor="start" font-family='"Liberation Serif", "Times New Roman", serif' fill="#000" textLength="108.0" lengthAdjust="spacingAndGlyphs">DeepAF tracking result</text>
<line x1="378.5" y1="489.4" x2="399.8" y2="489.4" stroke="#008000" stroke-width="1.6" stroke-dasharray="5.4 2.2"/>
<path d="M386.35 489.40H391.95M389.15 486.60V492.20" stroke="#008000" stroke-width="1.5" fill="none"/>
<text transform="translate(410.9,492.5) scale(1,1.0)" font-size="11.6" text-anchor="start" font-family='"Liberation Serif", "Times New Roman", serif' fill="#000" textLength="91.8" lengthAdjust="spacingAndGlyphs">PHD tracking result</text>
<line x1="378.5" y1="506.3" x2="399.8" y2="506.3" stroke="#0000ff" stroke-width="1.6" stroke-dasharray="5.4 2.2"/>
<path d="M386.65 503.80L391.65 508.80M386.65 508.80L391.65 503.80" stroke="#0000ff" stroke-width="1.5" fill="none"/>
<text transform="translate(410.9,509.4) scale(1,1.0)" font-size="11.6" text-anchor="start" font-family='"Liberation Serif", "Times New Roman", serif' fill="#000" textLength="91.4" lengthAdjust="spacingAndGlyphs">PDA tracking result</text>
<text transform="translate(150.4,858.6) scale(1,1.07)" class="cap" font-size="17.5" font-family='"Liberation Serif", serif' textLength="245.2" lengthAdjust="spacingAndGlyphs">(<tspan font-weight="bold">b</tspan>) tracking error on position</text>
<text transform="translate(290.5,883.7) scale(1,1.0)" font-size="12.0" text-anchor="middle" font-family='"Liberation Serif", "Times New Roman", serif' fill="#000" textLength="304.5" lengthAdjust="spacingAndGlyphs">Comparison on the actual tracking effect when target in CV mode</text>
<polyline points="73.30,1212.80 91.44,1177.73 109.58,1009.57 127.72,1022.46 145.86,1177.43 164.00,1068.33 182.14,1186.13 200.28,1068.03 218.42,1048.84 236.56,984.40 254.70,1142.36 272.84,1109.09 290.98,1109.69 309.12,1194.22 327.26,1194.82 345.40,1172.94 363.54,1167.84 381.68,905.26 399.82,1124.38 417.96,1171.44 436.10,1191.82 454.24,1099.20 472.38,1098.30 490.52,1018.57 508.66,1102.20" fill="none" stroke="#e900da" stroke-width="1.8" stroke-dasharray="5.4 2.2" stroke-linejoin="round"/>
<polygon points="73.30,1209.80 74.04,1211.79 76.15,1211.88 74.50,1213.19 75.06,1215.23 73.30,1214.06 71.54,1215.23 72.10,1213.19 70.45,1211.88 72.56,1211.79" fill="#e900da" stroke="#e900da" stroke-width="0.6"/>
<polygon points="91.44,1174.73 92.18,1176.71 94.29,1176.81 92.64,1178.12 93.20,1180.16 91.44,1178.99 89.68,1180.16 90.24,1178.12 88.59,1176.81 90.70,1176.71" fill="#e900da" stroke="#e900da" stroke-width="0.6"/>
<polygon points="109.58,1006.57 110.32,1008.55 112.43,1008.65 110.78,1009.96 111.34,1012.00 109.58,1010.83 107.82,1012.00 108.38,1009.96 106.73,1008.65 108.84,1008.55" fill="#e900da" stroke="#e900da" stroke-width="0.6"/>
<polygon points="127.72,1019.46 128.46,1021.44 130.57,1021.54 128.92,1022.85 129.48,1024.89 127.72,1023.72 125.96,1024.89 126.52,1022.85 124.87,1021.54 126.98,1021.44" fill="#e900da" stroke="#e900da" stroke-width="0.6"/>
<polygon points="145.86,1174.43 146.60,1176.41 148.71,1176.51 147.06,1177.82 147.62,1179.86 145.86,1178.69 144.10,1179.86 144.66,1177.82 143.01,1176.51 145.12,1176.41" fill="#e900da" stroke="#e900da" stroke-width="0.6"/>
<polygon points="164.00,1065.33 164.74,1067.31 166.85,1067.40 165.20,1068.71 165.76,1070.75 164.00,1069.59 162.24,1070.75 162.80,1068.71 161.15,1067.40 163.26,1067.31" fill="#e900da" stroke="#e900da" stroke-width="0.6"/>
<polygon points="182.14,1183.13 182.88,1185.11 184.99,1185.20 183.34,1186.52 183.90,1188.55 182.14,1187.39 180.38,1188.55 180.94,1186.52 179.29,1185.20 181.40,1185.11" fill="#e900da" stroke="#e900da" stroke-width="0.6"/>
<polygon points="200.28,1065.03 201.02,1067.01 203.13,1067.10 201.48,1068.41 202.04,1070.45 200.28,1069.29 198.52,1070.45 199.08,1068.41 197.43,1067.10 199.54,1067.01" fill="#e900da" stroke="#e900da" stroke-width="0.6"/>
<polygon points="218.42,1045.84 219.16,1047.82 221.27,1047.91 219.62,1049.23 220.18,1051.27 218.42,1050.10 216.66,1051.27 217.22,1049.23 215.57,1047.91 217.68,1047.82" fill="#e900da" stroke="#e900da" stroke-width="0.6"/>
<polygon points="236.56,981.40 237.30,983.38 239.41,983.47 237.76,984.78 238.32,986.82 236.56,985.66 234.80,986.82 235.36,984.78 233.71,983.47 235.82,983.38" fill="#e900da" stroke="#e900da" stroke-width="0.6"/>
<polygon points="254.70,1139.36 255.44,1141.34 257.55,1141.44 255.90,1142.75 256.46,1144.79 254.70,1143.62 252.94,1144.79 253.50,1142.75 251.85,1141.44 253.96,1141.34" fill="#e900da" stroke="#e900da" stroke-width="0.6"/>
<polygon points="272.84,1106.09 273.58,1108.07 275.69,1108.16 274.04,1109.48 274.60,1111.52 272.84,1110.35 271.08,1111.52 271.64,1109.48 269.99,1108.16 272.10,1108.07" fill="#e900da" stroke="#e900da" stroke-width="0.6"/>
<polygon points="290.98,1106.69 291.72,1108.67 293.83,1108.76 292.18,1110.08 292.74,1112.12 290.98,1110.95 289.22,1112.12 289.78,1110.08 288.13,1108.76 290.24,1108.67" fill="#e900da" stroke="#e900da" stroke-width="0.6"/>
<polygon points="309.12,1191.22 309.86,1193.20 311.97,1193.29 310.32,1194.61 310.88,1196.65 309.12,1195.48 307.36,1196.65 307.92,1194.61 306.27,1193.29 308.38,1193.20" fill="#e900da" stroke="#e900da" stroke-width="0.6"/>
<polygon points="327.26,1191.82 328.00,1193.80 330.11,1193.89 328.46,1195.21 329.02,1197.25 327.26,1196.08 325.50,1197.25 326.06,1195.21 324.41,1193.89 326.52,1193.80" fill="#e900da" stroke="#e900da" stroke-width="0.6"/>
<polygon points="345.40,1169.94 346.14,1171.92 348.25,1172.01 346.60,1173.33 347.16,1175.37 345.40,1174.20 343.64,1175.37 344.20,1173.33 342.55,1172.01 344.66,1171.92" fill="#e900da" stroke="#e900da" stroke-width="0.6"/>
<polygon points="363.54,1164.84 364.28,1166.82 366.39,1166.92 364.74,1168.23 365.30,1170.27 363.54,1169.10 361.78,1170.27 362.34,1168.23 360.69,1166.92 362.80,1166.82" fill="#e900da" stroke="#e900da" stroke-width="0.6"/>
<polygon points="381.68,902.26 382.42,904.24 384.53,904.33 382.88,905.65 383.44,907.69 381.68,906.52 379.92,907.69 380.48,905.65 378.83,904.33 380.94,904.24" fill="#e900da" stroke="#e900da" stroke-width="0.6"/>
<polygon points="399.82,1121.38 400.56,1123.36 402.67,1123.45 401.02,1124.77 401.58,1126.81 399.82,1125.64 398.06,1126.81 398.62,1124.77 396.97,1123.45 399.08,1123.36" fill="#e900da" stroke="#e900da" stroke-width="0.6"/>
<polygon points="417.96,1168.44 418.70,1170.42 420.81,1170.51 419.16,1171.83 419.72,1173.87 417.96,1172.70 416.20,1173.87 416.76,1171.83 415.11,1170.51 417.22,1170.42" fill="#e900da" stroke="#e900da" stroke-width="0.6"/>
<polygon points="436.10,1188.82 436.84,1190.80 438.95,1190.90 437.30,1192.21 437.86,1194.25 436.10,1193.08 434.34,1194.25 434.90,1192.21 433.25,1190.90 435.36,1190.80" fill="#e900da" stroke="#e900da" stroke-width="0.6"/>
<polygon points="454.24,1096.20 454.98,1098.18 457.09,1098.27 455.44,1099.59 456.00,1101.63 454.24,1100.46 452.48,1101.63 453.04,1099.59 451.39,1098.27 453.50,1098.18" fill="#e900da" stroke="#e900da" stroke-width="0.6"/>
<polygon points="472.38,1095.30 473.12,1097.28 475.23,1097.37 473.58,1098.69 474.14,1100.73 472.38,1099.56 470.62,1100.73 471.18,1098.69 469.53,1097.37 471.64,1097.28" fill="#e900da" stroke="#e900da" stroke-width="0.6"/>
<polygon points="490.52,1015.57 491.26,1017.55 493.37,1017.64 491.72,1018.96 492.28,1020.99 490.52,1019.83 488.76,1020.99 489.32,1018.96 487.67,1017.64 489.78,1017.55" fill="#e900da" stroke="#e900da" stroke-width="0.6"/>
<polygon points="508.66,1099.20 509.40,1101.18 511.51,1101.27 509.86,1102.59 510.42,1104.62 508.66,1103.46 506.90,1104.62 507.46,1102.59 505.81,1101.27 507.92,1101.18" fill="#e900da" stroke="#e900da" stroke-width="0.6"/>
<polyline points="73.30,1208.91 91.44,1097.70 109.58,991.89 127.72,1194.82 145.86,1097.70 164.00,1056.04 182.14,1157.05 200.28,1192.72 218.42,1180.73 236.56,1108.49 254.70,1142.66 272.84,1188.23 290.98,1175.94 309.12,1137.87 327.26,1126.48 345.40,1188.23 363.54,1144.46 381.68,1153.15 399.82,1109.09 417.96,1156.75 436.10,1137.87 454.24,1167.54 472.38,1176.24 490.52,1122.58 508.66,1169.04" fill="none" stroke="#008000" stroke-width="1.8" stroke-dasharray="5.4 2.2" stroke-linejoin="round"/>
<path d="M70.50 1208.91H76.10M73.30 1206.11V1211.71" stroke="#008000" stroke-width="1.5" fill="none"/>
<path d="M88.64 1097.70H94.24M91.44 1094.90V1100.50" stroke="#008000" stroke-width="1.5" fill="none"/>
<path d="M106.78 991.89H112.38M109.58 989.09V994.69" stroke="#008000" stroke-width="1.5" fill="none"/>
<path d="M124.92 1194.82H130.52M127.72 1192.02V1197.62" stroke="#008000" stroke-width="1.5" fill="none"/>
<path d="M143.06 1097.70H148.66M145.86 1094.90V1100.50" stroke="#008000" stroke-width="1.5" fill="none"/>
<path d="M161.20 1056.04H166.80M164.00 1053.24V1058.84" stroke="#008000" stroke-width="1.5" fill="none"/>
<path d="M179.34 1157.05H184.94M182.14 1154.25V1159.85" stroke="#008000" stroke-width="1.5" fill="none"/>
<path d="M197.48 1192.72H203.08M200.28 1189.92V1195.52" stroke="#008000" stroke-width="1.5" fill="none"/>
<path d="M215.62 1180.73H221.22M218.42 1177.93V1183.53" stroke="#008000" stroke-width="1.5" fill="none"/>
<path d="M233.76 1108.49H239.36M236.56 1105.69V1111.29" stroke="#008000" stroke-width="1.5" fill="none"/>
<path d="M251.90 1142.66H257.50M254.70 1139.86V1145.46" stroke="#008000" stroke-width="1.5" fill="none"/>
<path d="M270.04 1188.23H275.64M272.84 1185.43V1191.03" stroke="#008000" stroke-width="1.5" fill="none"/>
<path d="M288.18 1175.94H293.78M290.98 1173.14V1178.74" stroke="#008000" stroke-width="1.5" fill="none"/>
<path d="M306.32 1137.87H311.92M309.12 1135.07V1140.67" stroke="#008000" stroke-width="1.5" fill="none"/>
<path d="M324.46 1126.48H330.06M327.26 1123.68V1129.28" stroke="#008000" stroke-width="1.5" fill="none"/>
<path d="M342.60 1188.23H348.20M345.40 1185.43V1191.03" stroke="#008000" stroke-width="1.5" fill="none"/>
<path d="M360.74 1144.46H366.34M363.54 1141.66V1147.26" stroke="#008000" stroke-width="1.5" fill="none"/>
<path d="M378.88 1153.15H384.48M381.68 1150.35V1155.95" stroke="#008000" stroke-width="1.5" fill="none"/>
<path d="M397.02 1109.09H402.62M399.82 1106.29V1111.89" stroke="#008000" stroke-width="1.5" fill="none"/>
<path d="M415.16 1156.75H420.76M417.96 1153.95V1159.55" stroke="#008000" stroke-width="1.5" fill="none"/>
<path d="M433.30 1137.87H438.90M436.10 1135.07V1140.67" stroke="#008000" stroke-width="1.5" fill="none"/>
<path d="M451.44 1167.54H457.04M454.24 1164.74V1170.34" stroke="#008000" stroke-width="1.5" fill="none"/>
<path d="M469.58 1176.24H475.18M472.38 1173.44V1179.04" stroke="#008000" stroke-width="1.5" fill="none"/>
<path d="M487.72 1122.58H493.32M490.52 1119.78V1125.38" stroke="#008000" stroke-width="1.5" fill="none"/>
<path d="M505.86 1169.04H511.46M508.66 1166.24V1171.84" stroke="#008000" stroke-width="1.5" fill="none"/>
<polyline points="73.30,1168.74 91.44,1163.05 109.58,1059.33 127.72,1118.38 145.86,1128.58 164.00,1101.30 182.14,1136.37 200.28,1202.31 218.42,1185.53 236.56,1103.10 254.70,1165.74 272.84,1179.53 290.98,1171.44 309.12,1176.24 327.26,1185.53 345.40,1196.32 363.54,1150.16 381.68,1199.02 399.82,1148.96 417.96,1203.81 436.10,1171.44 454.24,1190.92 472.38,1113.59 490.52,1159.45 508.66,1184.93" fill="none" stroke="#0000ff" stroke-width="1.8" stroke-dasharray="5.4 2.2" stroke-linejoin="round"/>
<path d="M70.80 1166.24L75.80 1171.24M70.80 1171.24L75.80 1166.24" stroke="#0000ff" stroke-width="1.5" fill="none"/>
<path d="M88.94 1160.55L93.94 1165.55M88.94 1165.55L93.94 1160.55" stroke="#0000ff" stroke-width="1.5" fill="none"/>
<path d="M107.08 1056.83L112.08 1061.83M107.08 1061.83L112.08 1056.83" stroke="#0000ff" stroke-width="1.5" fill="none"/>
<path d="M125.22 1115.88L130.22 1120.88M125.22 1120.88L130.22 1115.88" stroke="#0000ff" stroke-width="1.5" fill="none"/>
<path d="M143.36 1126.08L148.36 1131.08M143.36 1131.08L148.36 1126.08" stroke="#0000ff" stroke-width="1.5" fill="none"/>
<path d="M161.50 1098.80L166.50 1103.80M161.50 1103.80L166.50 1098.80" stroke="#0000ff" stroke-width="1.5" fill="none"/>
<path d="M179.64 1133.87L184.64 1138.87M179.64 1138.87L184.64 1133.87" stroke="#0000ff" stroke-width="1.5" fill="none"/>
<path d="M197.78 1199.81L202.78 1204.81M197.78 1204.81L202.78 1199.81" stroke="#0000ff" stroke-width="1.5" fill="none"/>
<path d="M215.92 1183.03L220.92 1188.03M215.92 1188.03L220.92 1183.03" stroke="#0000ff" stroke-width="1.5" fill="none"/>
<path d="M234.06 1100.60L239.06 1105.60M234.06 1105.60L239.06 1100.60" stroke="#0000ff" stroke-width="1.5" fill="none"/>
<path d="M252.20 1163.24L257.20 1168.24M252.20 1168.24L257.20 1163.24" stroke="#0000ff" stroke-width="1.5" fill="none"/>
<path d="M270.34 1177.03L275.34 1182.03M270.34 1182.03L275.34 1177.03" stroke="#0000ff" stroke-width="1.5" fill="none"/>
<path d="M288.48 1168.94L293.48 1173.94M288.48 1173.94L293.48 1168.94" stroke="#0000ff" stroke-width="1.5" fill="none"/>
<path d="M306.62 1173.74L311.62 1178.74M306.62 1178.74L311.62 1173.74" stroke="#0000ff" stroke-width="1.5" fill="none"/>
<path d="M324.76 1183.03L329.76 1188.03M324.76 1188.03L329.76 1183.03" stroke="#0000ff" stroke-width="1.5" fill="none"/>
<path d="M342.90 1193.82L347.90 1198.82M342.90 1198.82L347.90 1193.82" stroke="#0000ff" stroke-width="1.5" fill="none"/>
<path d="M361.04 1147.66L366.04 1152.66M361.04 1152.66L366.04 1147.66" stroke="#0000ff" stroke-width="1.5" fill="none"/>
<path d="M379.18 1196.52L384.18 1201.52M379.18 1201.52L384.18 1196.52" stroke="#0000ff" stroke-width="1.5" fill="none"/>
<path d="M397.32 1146.46L402.32 1151.46M397.32 1151.46L402.32 1146.46" stroke="#0000ff" stroke-width="1.5" fill="none"/>
<path d="M415.46 1201.31L420.46 1206.31M415.46 1206.31L420.46 1201.31" stroke="#0000ff" stroke-width="1.5" fill="none"/>
<path d="M433.60 1168.94L438.60 1173.94M433.60 1173.94L438.60 1168.94" stroke="#0000ff" stroke-width="1.5" fill="none"/>
<path d="M451.74 1188.42L456.74 1193.42M451.74 1193.42L456.74 1188.42" stroke="#0000ff" stroke-width="1.5" fill="none"/>
<path d="M469.88 1111.09L474.88 1116.09M469.88 1116.09L474.88 1111.09" stroke="#0000ff" stroke-width="1.5" fill="none"/>
<path d="M488.02 1156.95L493.02 1161.95M488.02 1161.95L493.02 1156.95" stroke="#0000ff" stroke-width="1.5" fill="none"/>
<path d="M506.16 1182.43L511.16 1187.43M506.16 1187.43L511.16 1182.43" stroke="#0000ff" stroke-width="1.5" fill="none"/>
<rect x="51.2" y="889.6" width="479.00" height="339.20" fill="none" stroke="#404040" stroke-width="1.35"/>
<line x1="47.7" y1="1219.20" x2="51.2" y2="1219.20" stroke="#333" stroke-width="0.9"/>
<text transform="translate(44.7,1222.8) scale(0.93,1.0)" font-size="12.2" text-anchor="end" font-family='"Liberation Serif", "Times New Roman", serif' fill="#000">0</text>
<line x1="47.7" y1="1159.24" x2="51.2" y2="1159.24" stroke="#333" stroke-width="0.9"/>
<text transform="translate(44.7,1162.8) scale(0.93,1.0)" font-size="12.2" text-anchor="end" font-family='"Liberation Serif", "Times New Roman", serif' fill="#000">20</text>
<line x1="47.7" y1="1099.28" x2="51.2" y2="1099.28" stroke="#333" stroke-width="0.9"/>
<text transform="translate(44.7,1102.9) scale(0.93,1.0)" font-size="12.2" text-anchor="end" font-family='"Liberation Serif", "Times New Roman", serif' fill="#000">40</text>
<line x1="47.7" y1="1039.32" x2="51.2" y2="1039.32" stroke="#333" stroke-width="0.9"/>
<text transform="translate(44.7,1042.9) scale(0.93,1.0)" font-size="12.2" text-anchor="end" font-family='"Liberation Serif", "Times New Roman", serif' fill="#000">60</text>
<line x1="47.7" y1="979.36" x2="51.2" y2="979.36" stroke="#333" stroke-width="0.9"/>
<text transform="translate(44.7,983) scale(0.93,1.0)" font-size="12.2" text-anchor="end" font-family='"Liberation Serif", "Times New Roman", serif' fill="#000">80</text>
<line x1="47.7" y1="919.40" x2="51.2" y2="919.40" stroke="#333" stroke-width="0.9"/>
<text transform="translate(44.7,923) scale(0.93,1.0)" font-size="12.2" text-anchor="end" font-family='"Liberation Serif", "Times New Roman", serif' fill="#000">100</text>
<line x1="73.30" y1="1228.8" x2="73.30" y2="1232.3" stroke="#333" stroke-width="0.9"/>
<text transform="translate(73.3,1243.1) scale(0.93,1.0)" font-size="12.2" text-anchor="middle" font-family='"Liberation Serif", "Times New Roman", serif' fill="#000">0</text>
<line x1="164.00" y1="1228.8" x2="164.00" y2="1232.3" stroke="#333" stroke-width="0.9"/>
<text transform="translate(164,1243.1) scale(0.93,1.0)" font-size="12.2" text-anchor="middle" font-family='"Liberation Serif", "Times New Roman", serif' fill="#000">5</text>
<line x1="254.70" y1="1228.8" x2="254.70" y2="1232.3" stroke="#333" stroke-width="0.9"/>
<text transform="translate(254.7,1243.1) scale(0.93,1.0)" font-size="12.2" text-anchor="middle" font-family='"Liberation Serif", "Times New Roman", serif' fill="#000">10</text>
<line x1="345.40" y1="1228.8" x2="345.40" y2="1232.3" stroke="#333" stroke-width="0.9"/>
<text transform="translate(345.4,1243.1) scale(0.93,1.0)" font-size="12.2" text-anchor="middle" font-family='"Liberation Serif", "Times New Roman", serif' fill="#000">15</text>
<line x1="436.10" y1="1228.8" x2="436.10" y2="1232.3" stroke="#333" stroke-width="0.9"/>
<text transform="translate(436.1,1243.1) scale(0.93,1.0)" font-size="12.2" text-anchor="middle" font-family='"Liberation Serif", "Times New Roman", serif' fill="#000">20</text>
<line x1="526.80" y1="1228.8" x2="526.80" y2="1232.3" stroke="#333" stroke-width="0.9"/>
<text transform="translate(526.8,1243.1) scale(0.93,1.0)" font-size="12.2" text-anchor="middle" font-family='"Liberation Serif", "Times New Roman", serif' fill="#000">25</text>
<text transform="translate(290.9,1258) scale(1,1.0)" font-size="12.6" text-anchor="middle" font-family='"Liberation Serif", "Times New Roman", serif' fill="#000" textLength="48.2" lengthAdjust="spacingAndGlyphs">Time label</text>
<text transform="translate(20.2,1060.00) rotate(-90) scale(1,1.0)" x="0" y="0" font-size="12.6" text-anchor="middle" font-family='"Liberation Serif", "Times New Roman", serif' textLength="129.2" lengthAdjust="spacingAndGlyphs">Estimation error of velocity</text>
<rect x="57.1" y="896.1" width="150.80" height="54.10" rx="2" fill="#fff" fill-opacity="0.8" stroke="#d6d6d6" stroke-width="1"/>
<line x1="60.3" y1="905.0" x2="84.8" y2="905.0" stroke="#e900da" stroke-width="1.6" stroke-dasharray="5.4 2.2"/>
<polygon points="72.55,902.00 73.29,903.98 75.40,904.07 73.75,905.39 74.31,907.43 72.55,906.26 70.79,907.43 71.35,905.39 69.70,904.07 71.81,903.98" fill="#e900da" stroke="#e900da" stroke-width="0.6"/>
<text transform="translate(94.3,908.1) scale(1,1.0)" font-size="11.6" text-anchor="start" font-family='"Liberation Serif", "Times New Roman", serif' fill="#000" textLength="108.0" lengthAdjust="spacingAndGlyphs">DeepAF tracking result</text>
<line x1="60.3" y1="921.9" x2="84.8" y2="921.9" stroke="#008000" stroke-width="1.6" stroke-dasharray="5.4 2.2"/>
<path d="M69.75 921.90H75.35M72.55 919.10V924.70" stroke="#008000" stroke-width="1.5" fill="none"/>
<text transform="translate(94.3,925) scale(1,1.0)" font-size="11.6" text-anchor="start" font-family='"Liberation Serif", "Times New Roman", serif' fill="#000" textLength="91.8" lengthAdjust="spacingAndGlyphs">PHD tracking result</text>
<line x1="60.3" y1="938.2" x2="84.8" y2="938.2" stroke="#0000ff" stroke-width="1.6" stroke-dasharray="5.4 2.2"/>
<path d="M70.05 935.70L75.05 940.70M70.05 940.70L75.05 935.70" stroke="#0000ff" stroke-width="1.5" fill="none"/>
<text transform="translate(94.3,941.3) scale(1,1.0)" font-size="11.6" text-anchor="start" font-family='"Liberation Serif", "Times New Roman", serif' fill="#000" textLength="91.4" lengthAdjust="spacingAndGlyphs">PDA tracking result</text>
<text transform="translate(153.1,1292.2) scale(1,1.07)" class="cap" font-size="17.5" font-family='"Liberation Serif", serif' textLength="238.6" lengthAdjust="spacingAndGlyphs">(<tspan font-weight="bold">c</tspan>) tracking error on velocity</text>
</svg>
</body></html>
